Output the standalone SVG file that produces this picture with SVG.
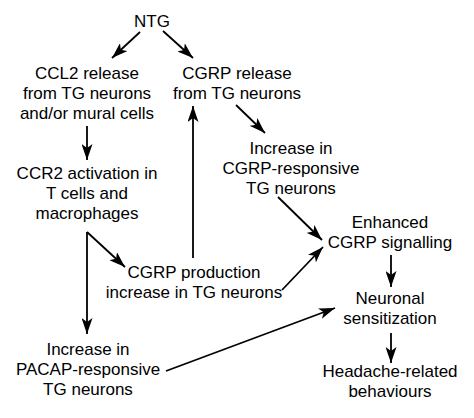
<svg xmlns="http://www.w3.org/2000/svg" width="474" height="418" viewBox="0 0 474 418">
<defs>
<marker id="ah" markerUnits="userSpaceOnUse" markerWidth="17" markerHeight="11" viewBox="0 0 17 11" refX="16" refY="5.5" orient="auto">
<path d="M0,0 L16,5.5 L0,11 L4,5.5 z" fill="#000"/>
</marker>
<style>
text{font-family:"Liberation Sans",Arial,sans-serif;font-size:17px;fill:#000;text-anchor:middle}
.c{stroke:#000;stroke-width:1.8;fill:none}
.a{marker-end:url(#ah)}
</style>
</defs>
<rect width="474" height="418" fill="#fff"/>
<g id="ntg"><text x="152" y="27">NTG</text></g>
<g id="ccl2"><text x="87" y="79">CCL2 release</text><text x="87" y="99">from TG neurons</text><text x="87" y="119">and/or mural cells</text></g>
<g id="cgrp-release"><text x="237" y="79">CGRP release</text><text x="237" y="99">from TG neurons</text></g>
<g id="cgrp-resp"><text x="291" y="154">Increase in</text><text x="291" y="174">CGRP-responsive</text><text x="291" y="194">TG neurons</text></g>
<g id="ccr2"><text x="87" y="179">CCR2 activation in</text><text x="87" y="199">T cells and</text><text x="87" y="219">macrophages</text></g>
<g id="cgrp-prod"><text x="194" y="278">CGRP production</text><text x="194" y="298">increase in TG neurons</text></g>
<g id="enhanced"><text x="390" y="228">Enhanced</text><text x="390" y="248">CGRP signalling</text></g>
<g id="neuronal"><text x="390" y="304">Neuronal</text><text x="390" y="324">sensitization</text></g>
<g id="headache"><text x="390" y="377">Headache-related</text><text x="390" y="397">behaviours</text></g>
<g id="pacap"><text x="88" y="355">Increase in</text><text x="88" y="375">PACAP-responsive</text><text x="88" y="395">TG neurons</text></g>
<g id="connectors">
<line class="c a" x1="140" y1="32" x2="112" y2="58"/>
<line class="c a" x1="163" y1="31" x2="193" y2="58"/>
<line class="c a" x1="87" y1="126" x2="87" y2="160"/>
<line class="c a" x1="193" y1="258" x2="193" y2="106"/>
<line class="c a" x1="236" y1="105" x2="265" y2="133"/>
<line class="c a" x1="278" y1="197" x2="322" y2="240"/>
<line class="c a" x1="87" y1="232" x2="87" y2="334"/>
<line class="c a" x1="87" y1="232" x2="125" y2="267"/>
<line class="c a" x1="282" y1="290" x2="323" y2="247"/>
<line class="c a" x1="391" y1="255" x2="391" y2="287"/>
<line class="c a" x1="391" y1="333" x2="391" y2="363"/>
<line class="c a" x1="166" y1="371" x2="335" y2="308"/>
</g>
</svg>
